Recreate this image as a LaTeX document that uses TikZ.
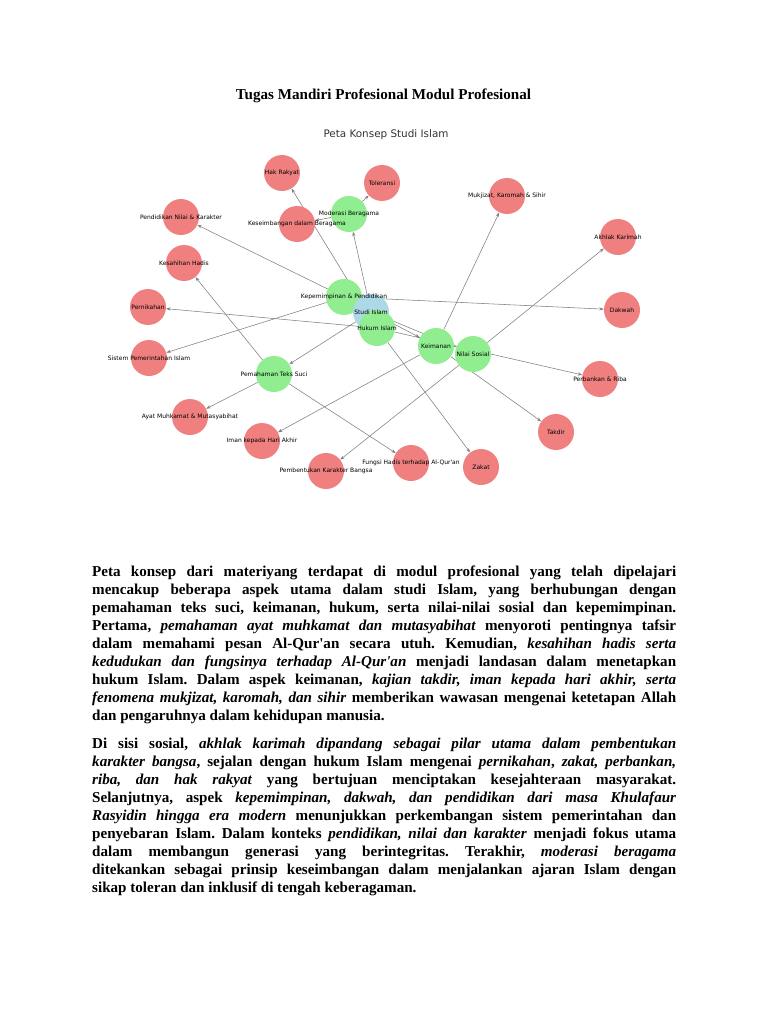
\documentclass[tikz,border=0pt]{standalone}
\usepackage{fontspec}
\setmainfont{Liberation Serif}
\newfontfamily\dejavu{DejaVu Sans}
\usetikzlibrary{arrows.meta,backgrounds}
\definecolor{lcoral}{RGB}{240,128,128}
\definecolor{lgreen}{RGB}{144,238,144}
\definecolor{lblue}{RGB}{173,216,230}
\definecolor{edgegray}{RGB}{128,128,128}
\newcommand\jline[3]{\node[para] (#1) at (92,#2) {\hbox to 584pt{#3}};}
\newcommand\lastline[3]{\node[para] (#1) at (92,#2) {#3};}
\newcommand\apo{\textquotesingle}
\frenchspacing
\begin{document}
\begin{tikzpicture}[x=1pt,y=-1pt,
  base/.style={circle,minimum size=36pt,inner sep=0pt,draw=none},
  rn/.style={base,fill=lcoral},
  gn/.style={base,fill=lgreen},
  bn/.style={base,fill=lblue},
  lbl/.style={inner sep=0pt,font=\dejavu\fontsize{6}{7}\selectfont},
  edge/.style={draw=edgegray,line width=0.55pt,-{Stealth[length=4.5pt,width=3.2pt]}},
  para/.style={anchor=base west,inner sep=0pt,font=\bfseries\frenchspacing\fontsize{15.1}{18}\selectfont}]
\useasboundingbox (0,0) rectangle (768,1024);

\node[anchor=base,inner sep=0pt,font=\bfseries\fontsize{15.1}{18}\selectfont] (doctitle) at (383.5,100) {Tugas Mandiri Profesional Modul Profesional};
\node[inner sep=0pt,text=black!80,font=\dejavu\fontsize{10.4}{12}\selectfont] (gtitle) at (386,135) {Peta Konsep Studi Islam};

% nodes (drawing order matters for overlaps)
\node[rn] (hak) at (282,173) {};
\node[rn] (tol) at (382,183) {};
\node[rn] (kes) at (297,224) {};
\node[gn] (mod) at (349,214) {};
\node[rn] (pnk) at (181,217) {};
\node[rn] (muk) at (507,196) {};
\node[rn] (akh) at (618,237) {};
\node[rn] (ksh) at (184,263) {};
\node[rn] (per) at (148,307) {};
\node[rn] (sis) at (149,358) {};
\node[gn] (kep) at (344,297) {};
\node[bn] (sti) at (371,312) {};
\node[gn] (huk) at (377,328) {};
\node[gn] (kei) at (436,346) {};
\node[gn] (nil) at (473,354) {};
\node[rn] (dak) at (622,310) {};
\node[rn] (pbr) at (600,379) {};
\node[gn] (pts) at (274,374) {};
\node[rn] (tak) at (556,432) {};
\node[rn] (zak) at (481,467) {};
\node[rn] (fun) at (411,463) {};
\node[rn] (aya) at (190,417) {};
\node[rn] (ima) at (262,441) {};
\node[rn] (pkb) at (326,471) {};

\begin{pgfonlayer}{background}
\fill[white] (0,0) rectangle (768,1024);
\draw[edge] (sti) -- (mod);
\draw[edge] (sti) -- (kep);
\draw[edge] (sti) -- (huk);
\draw[edge] (sti) -- (kei);
\draw[edge] (sti) -- (nil);
\draw[edge] (sti) -- (pts);
\draw[edge] (mod) -- (tol);
\draw[edge] (mod) -- (kes);
\draw[edge] (kep) -- (pnk);
\draw[edge] (kep) -- (sis);
\draw[edge] (kep) -- (dak);
\draw[edge] (huk) -- (per);
\draw[edge] (huk) -- (hak);
\draw[edge] (huk) -- (zak);
\draw[edge] (huk) -- (pbr);
\draw[edge] (kei) -- (muk);
\draw[edge] (kei) -- (tak);
\draw[edge] (kei) -- (ima);
\draw[edge] (nil) -- (akh);
\draw[edge] (nil) -- (pkb);
\draw[edge] (pts) -- (aya);
\draw[edge] (pts) -- (ksh);
\draw[edge] (pts) -- (fun);
\end{pgfonlayer}

% labels
\node[lbl] (hak-l) at (hak) {Hak Rakyat};
\node[lbl] (tol-l) at (tol) {Toleransi};
\node[lbl] (kes-l) at (kes) {Keseimbangan dalam Beragama};
\node[lbl] (mod-l) at (mod) {Moderasi Beragama};
\node[lbl] (pnk-l) at (pnk) {Pendidikan Nilai \& Karakter};
\node[lbl] (muk-l) at (muk) {Mukjizat, Karomah \& Sihir};
\node[lbl] (akh-l) at (akh) {Akhlak Karimah};
\node[lbl] (ksh-l) at (ksh) {Kesahihan Hadis};
\node[lbl] (per-l) at (per) {Pernikahan};
\node[lbl] (sis-l) at (sis) {Sistem Pemerintahan Islam};
\node[lbl] (kep-l) at (kep) {Kepemimpinan \& Pendidikan};
\node[lbl] (sti-l) at (sti) {Studi Islam};
\node[lbl] (huk-l) at (huk) {Hukum Islam};
\node[lbl] (kei-l) at (kei) {Keimanan};
\node[lbl] (nil-l) at (nil) {Nilai Sosial};
\node[lbl] (dak-l) at (dak) {Dakwah};
\node[lbl] (pbr-l) at (pbr) {Perbankan \& Riba};
\node[lbl] (pts-l) at (pts) {Pemahaman Teks Suci};
\node[lbl] (tak-l) at (tak) {Takdir};
\node[lbl] (zak-l) at (zak) {Zakat};
\node[lbl] (fun-l) at (fun) {Fungsi Hadis terhadap Al-Qur\apo an};
\node[lbl] (aya-l) at (aya) {Ayat Muhkamat \& Mutasyabihat};
\node[lbl] (ima-l) at (ima) {Iman kepada Hari Akhir};
\node[lbl] (pkb-l) at (pkb) {Pembentukan Karakter Bangsa};

% paragraph 1
\jline{a1}{576}{Peta konsep dari materiyang terdapat di modul profesional yang telah dipelajari}
\jline{a2}{594}{mencakup beberapa aspek utama dalam studi Islam, yang berhubungan dengan}
\jline{a3}{612}{pemahaman teks suci, keimanan, hukum, serta nilai-nilai sosial dan kepemimpinan.}
\jline{a4}{630}{Pertama, \textit{pemahaman ayat muhkamat dan mutasyabihat} menyoroti pentingnya tafsir}
\jline{a5}{648}{dalam memahami pesan Al-Qur\apo an secara utuh. Kemudian, \textit{kesahihan hadis serta}}
\jline{a6}{666}{\textit{kedudukan dan fungsinya terhadap Al-Qur\apo an} menjadi landasan dalam menetapkan}
\jline{a7}{684}{hukum Islam. Dalam aspek keimanan, \textit{kajian takdir, iman kepada hari akhir, serta}}
\jline{a8}{702}{\textit{fenomena mukjizat, karomah, dan sihir} memberikan wawasan mengenai ketetapan Allah}
\lastline{a9}{720}{dan pengaruhnya dalam kehidupan manusia.}
% paragraph 2
\jline{b1}{748}{Di sisi sosial, \textit{akhlak karimah dipandang sebagai pilar utama dalam pembentukan}}
\jline{b2}{766}{\textit{karakter bangsa}, sejalan dengan hukum Islam mengenai \textit{pernikahan}, \textit{zakat, perbankan,}}
\jline{b3}{784}{\textit{riba, dan hak rakyat} yang bertujuan menciptakan kesejahteraan masyarakat.}
\jline{b4}{802}{Selanjutnya, aspek \textit{kepemimpinan, dakwah, dan pendidikan dari masa Khulafaur}}
\jline{b5}{820}{\textit{Rasyidin hingga era modern} menunjukkan perkembangan sistem pemerintahan dan}
\jline{b6}{838}{penyebaran Islam. Dalam konteks \textit{pendidikan, nilai dan karakter} menjadi fokus utama}
\jline{b7}{856}{dalam membangun generasi yang berintegritas. Terakhir, \textit{moderasi beragama}}
\jline{b8}{874}{ditekankan sebagai prinsip keseimbangan dalam menjalankan ajaran Islam dengan}
\lastline{b9}{892}{sikap toleran dan inklusif di tengah keberagaman.}
\end{tikzpicture}
\end{document}
